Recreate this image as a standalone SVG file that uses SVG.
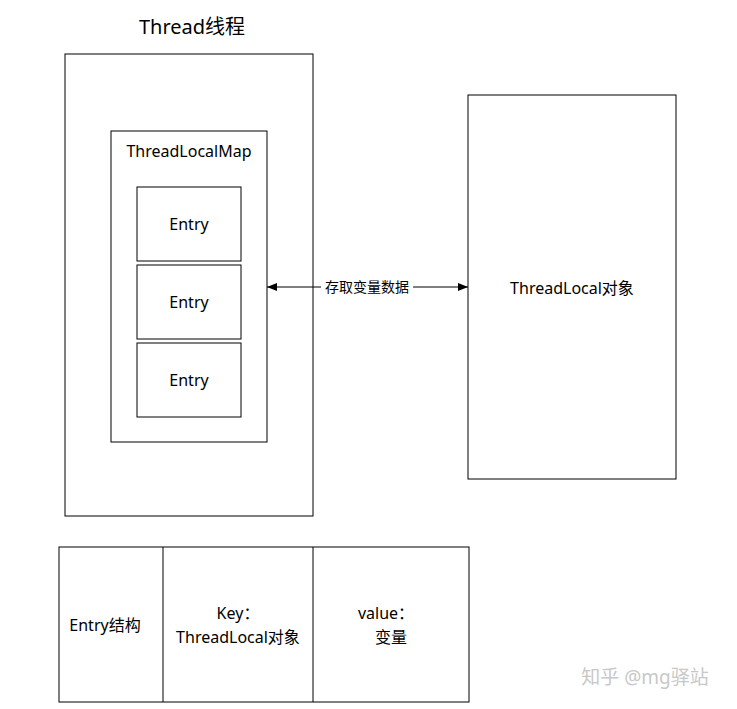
<svg xmlns="http://www.w3.org/2000/svg" width="737" height="709" viewBox="0 0 737 709">
<style>
rect{fill:#fff;stroke:#000;stroke-width:1}
text{font-family:"Noto Sans","Noto Sans CJK SC",sans-serif;font-size:16px;fill:#000;text-anchor:middle}
</style>
<defs><marker id="a" viewBox="0 0 10 10" refX="10" refY="5" markerWidth="10" markerHeight="10" orient="auto-start-reverse" markerUnits="userSpaceOnUse"><path d="M0,1L10,5L0,9z" fill="#000"/></marker></defs>
<rect x="0" y="0" width="737" height="709" style="stroke:none"/>
<g id="thread"><text x="192" y="34" style="font-size:20px">Thread线程</text><rect x="65" y="54" width="248" height="462"/></g>
<g id="map"><rect x="111" y="131" width="156" height="311"/><text x="189" y="157">ThreadLocalMap</text></g>
<g id="entry1"><rect x="137" y="187" width="104" height="74"/><text x="189" y="230">Entry</text></g>
<g id="entry2"><rect x="137" y="265" width="104" height="74"/><text x="189" y="308">Entry</text></g>
<g id="entry3"><rect x="137" y="343" width="104" height="74"/><text x="189" y="386">Entry</text></g>
<g id="threadlocal"><rect x="468" y="95" width="208" height="384"/><text x="572" y="294">ThreadLocal对象</text></g>
<g id="connectors"><line x1="267" y1="287" x2="468" y2="287" stroke="#000" marker-start="url(#a)" marker-end="url(#a)"/><rect x="321" y="278" width="92" height="18" style="stroke:none"/><text x="367" y="292" style="font-size:14px">存取变量数据</text></g>
<g id="table"><rect x="59" y="547" width="410" height="155"/><line x1="163" y1="547" x2="163" y2="702" stroke="#000"/><line x1="313" y1="547" x2="313" y2="702" stroke="#000"/>
<text x="105" y="631">Entry结构</text><text x="238" y="619">Key：</text><text x="238" y="643">ThreadLocal对象</text><text x="386" y="619">value：</text><text x="391" y="643">变量</text></g>
<text x="645" y="684" style="font-size:19px;fill:#c8c8c8">知乎 @mg驿站</text>
</svg>
